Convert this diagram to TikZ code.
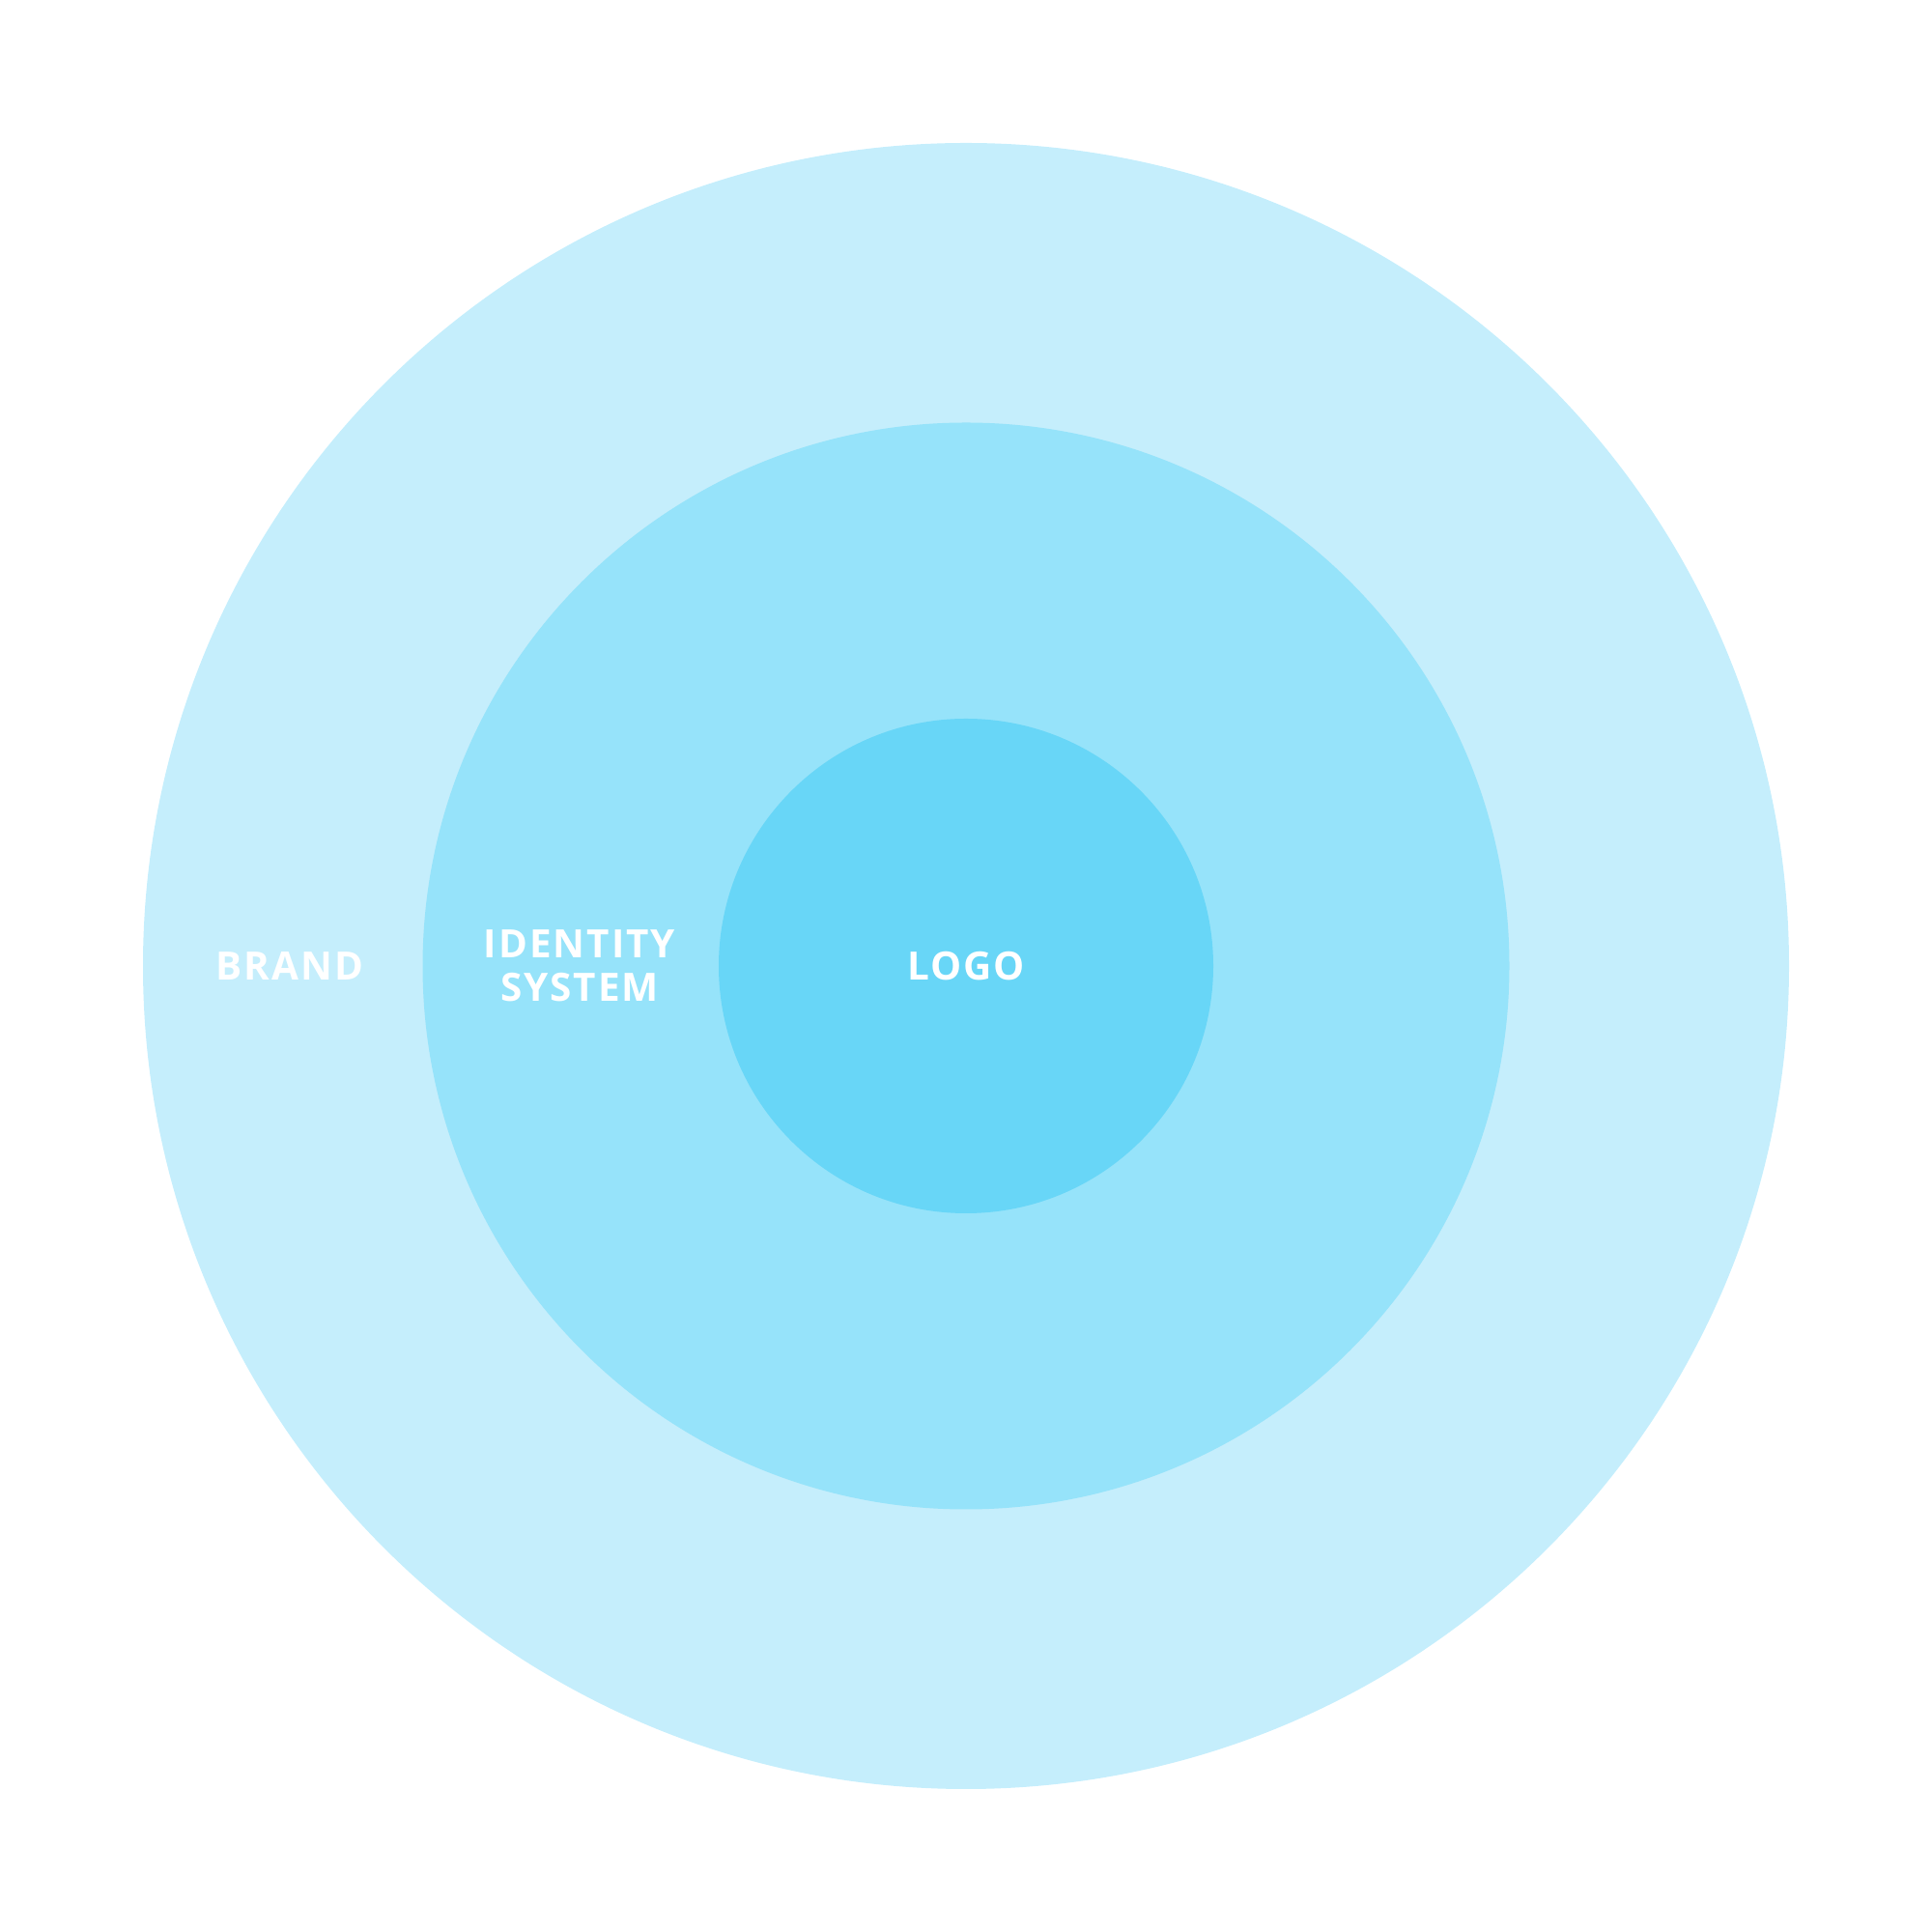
\documentclass[tikz,border=0pt]{standalone}
\usepackage{fontspec}
\setmainfont{Open Sans}[LetterSpace=5]
\definecolor{ringout}{RGB}{197,238,252}
\definecolor{ringmid}{RGB}{150,227,250}
\definecolor{ringin}{RGB}{104,214,247}
\begin{document}
\begin{tikzpicture}
\tikzstyle{every node}=[inner sep=0pt]
\useasboundingbox (0,0) rectangle (20,20);
\node[style={circle,fill={ringout},minimum size=17.04cm}] (brand) at (10, 10) {};
\node[style={circle,fill={ringmid},minimum size=11.25cm}] (identity) at (10, 10) {};
\node[style={circle,fill={ringin},minimum size=5.12cm}] (logo) at (10, 10) {};
\node[style={text=white,align=center,font={\fontsize{11.5}{12.8}\selectfont\bfseries}}] (brandtext) at (3, 10) {BRAND};
\node[style={text=white,align=center,font={\fontsize{11.5}{12.8}\selectfont\bfseries}}] (identitytext) at (6, 10) {IDENTITY\\SYSTEM};
\node[style={text=white,align=center,font={\fontsize{11.5}{12.8}\selectfont\bfseries}}] (logotext) at (10, 10) {LOGO};
\end{tikzpicture}
\end{document}
